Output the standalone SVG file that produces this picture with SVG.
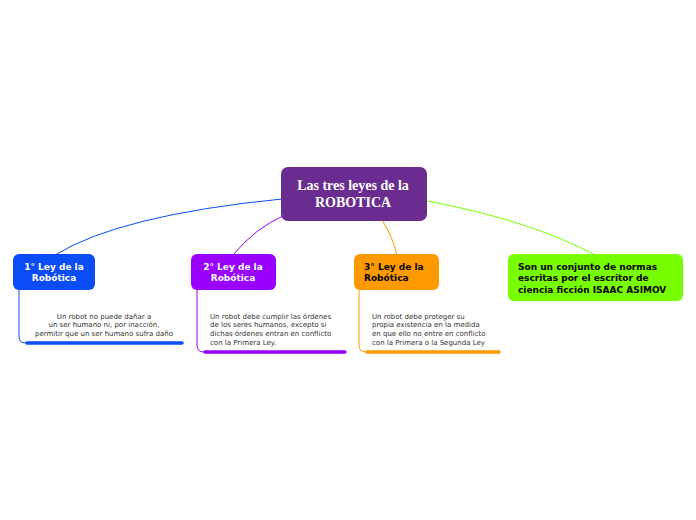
<svg xmlns="http://www.w3.org/2000/svg" width="696" height="520" viewBox="0 0 696 520">
<style>
.t{font-family:"DejaVu Sans",Verdana,sans-serif;font-weight:bold;font-size:9px}
.s{font-family:"DejaVu Sans",Verdana,sans-serif;font-size:7px;fill:#333}
.c{fill:none;stroke-width:1}
</style>
<rect width="696" height="520" fill="#fff"/>
<g id="connectors">
<path class="c" stroke="#0a4cf5" d="M282,199 Q120,215 55,255"/>
<path class="c" stroke="#9900ff" d="M285,215 Q255,228 233,255"/>
<path class="c" stroke="#ff9900" d="M382,220 Q392,235 397,255"/>
<path class="c" stroke="#77ff00" d="M427,201 Q530,220 597,256"/>
<path class="c" stroke="#0a4cf5" d="M19,289 V337 Q19,343 26,343"/>
<path class="c" stroke="#9900ff" d="M197,289 V345 Q197,352 204,352"/>
<path class="c" stroke="#ff9900" d="M359,289 V345 Q359,352 366,352"/>
<line x1="27" y1="343" x2="182" y2="343" stroke="#0a4cf5" stroke-width="3.5" stroke-linecap="round"/>
<line x1="205" y1="352" x2="345" y2="352" stroke="#9900ff" stroke-width="3.5" stroke-linecap="round"/>
<line x1="367" y1="352" x2="499" y2="352" stroke="#ff9900" stroke-width="3.5" stroke-linecap="round"/>
</g>
<g id="root">
<rect x="281" y="167" width="146" height="54" rx="7" fill="#6a2c91"/>
<text x="353" y="190" text-anchor="middle" font-family="Liberation Serif,serif" font-weight="bold" font-size="14" fill="#fff">Las tres leyes de la</text>
<text x="353" y="207" text-anchor="middle" font-family="Liberation Serif,serif" font-weight="bold" font-size="14" fill="#fff">ROBOTICA</text>
</g>
<g id="n1">
<rect x="13" y="254" width="82" height="36" rx="6" fill="#0a4cf5"/>
<text class="t" fill="#fff" text-anchor="middle" x="54" y="270">1° Ley de la</text>
<text class="t" fill="#fff" text-anchor="middle" x="54" y="281">Robótica</text>
<text class="s" text-anchor="middle" x="104" y="319">Un robot no puede dañar a</text>
<text class="s" text-anchor="middle" x="104" y="327">un ser humano ni, por inacción,</text>
<text class="s" text-anchor="middle" x="104" y="336">permitir que un ser humano sufra daño</text>
</g>
<g id="n2">
<rect x="191" y="254" width="85" height="36" rx="6" fill="#9900ff"/>
<text class="t" fill="#fff" text-anchor="middle" x="233" y="270">2° Ley de la</text>
<text class="t" fill="#fff" text-anchor="middle" x="233" y="281">Robótica</text>
<text class="s" x="210" y="319">Un robot debe cumplir las órdenes</text>
<text class="s" x="210" y="327">de los seres humanos, excepto si</text>
<text class="s" x="210" y="336">dichas órdenes entran en conflicto</text>
<text class="s" x="210" y="345">con la Primera Ley.</text>
</g>
<g id="n3">
<rect x="354" y="254" width="85" height="36" rx="6" fill="#ff9900"/>
<text class="t" fill="#000" x="364" y="270">3° Ley de la</text>
<text class="t" fill="#000" x="364" y="281">Robótica</text>
<text class="s" x="372" y="319">Un robot debe proteger su</text>
<text class="s" x="372" y="327">propia existencia en la medida</text>
<text class="s" x="372" y="336">en que ello no entre en conflicto</text>
<text class="s" x="372" y="345">con la Primera o la Segunda Ley</text>
</g>
<g id="n4">
<rect x="508" y="254" width="175" height="47" rx="6" fill="#77ff00"/>
<text class="t" fill="#000" x="518" y="270">Son un conjunto de normas</text>
<text class="t" fill="#000" x="518" y="281">escritas por el escritor de</text>
<text class="t" fill="#000" x="518" y="293">ciencia ficción ISAAC ASIMOV</text>
</g>
</svg>
